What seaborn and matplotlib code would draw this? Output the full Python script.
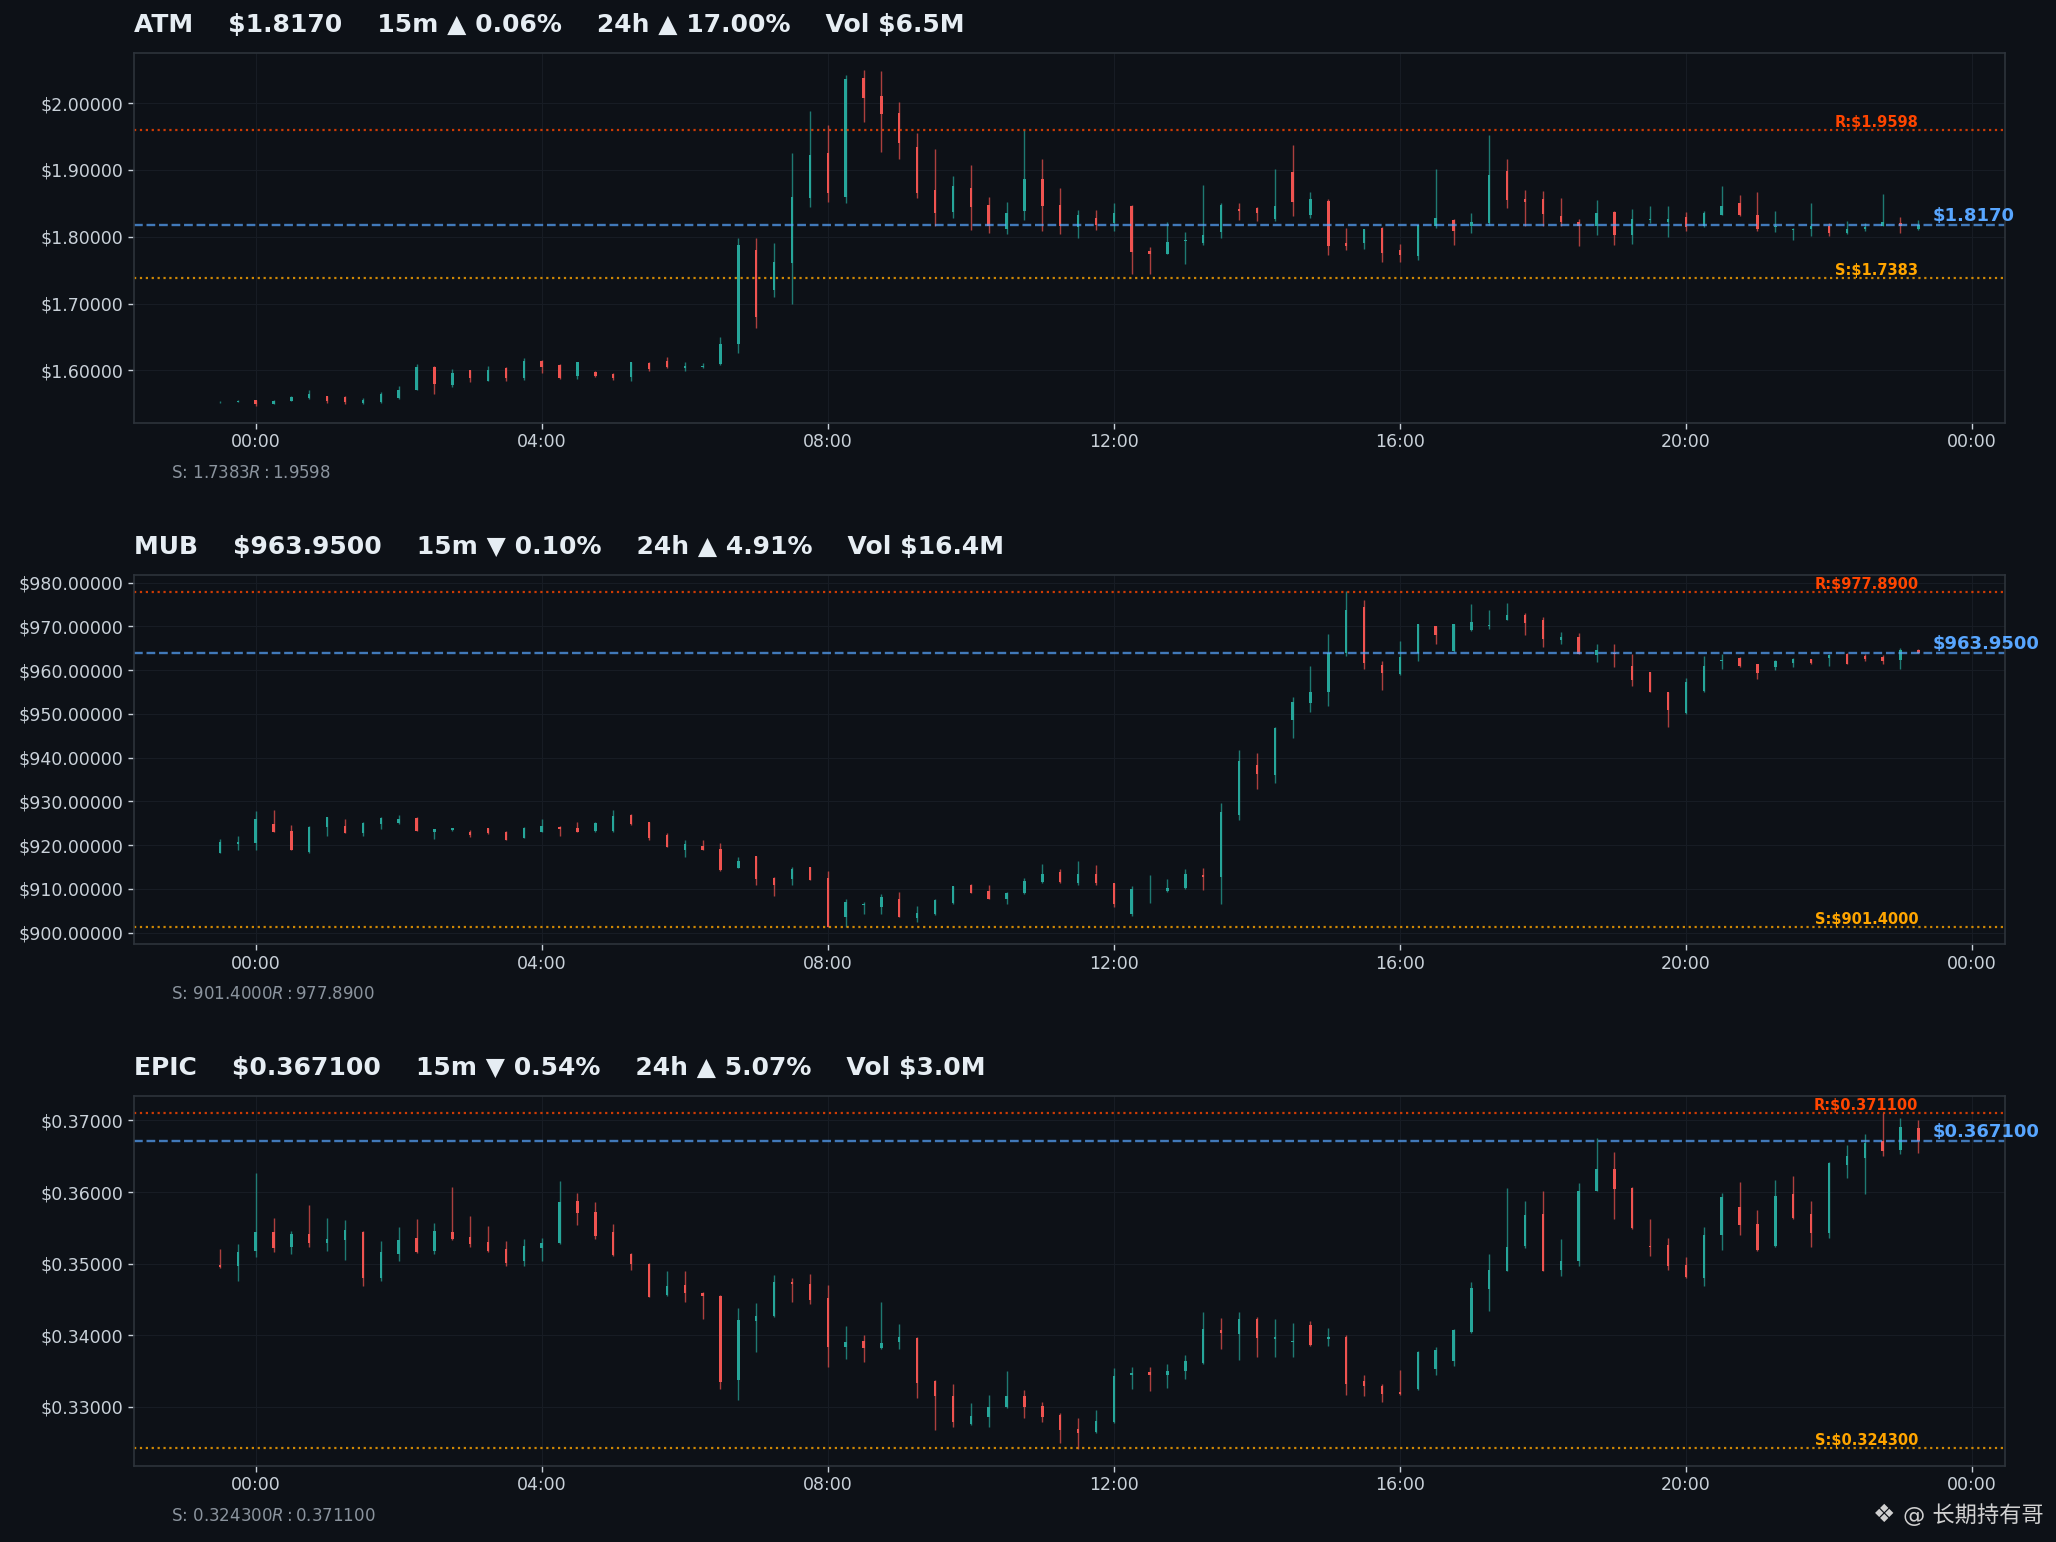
# Three-panel 15m candlestick overview (ATM / MUB / EPIC)

import numpy as np
import pandas as pd
import matplotlib
matplotlib.use("Agg")
import matplotlib.pyplot as plt
import matplotlib.dates as mdates
from matplotlib.ticker import FuncFormatter, MultipleLocator
import seaborn as sns


# 96 candles, 15 minutes apart, 23:30 -> 23:15 next day
times = pd.date_range("2024-05-01 23:30", periods=96, freq="15min")

atm_open = [1.5522, 1.5528, 1.5550, 1.5500, 1.5540, 1.5580, 1.5620, 1.5600, 1.5510, 1.5520,
            1.5590, 1.5710, 1.6050, 1.5780, 1.6000, 1.5840, 1.6030, 1.5890, 1.6140, 1.6080,
            1.5910, 1.5980, 1.5950, 1.5900, 1.6110, 1.6140, 1.6030, 1.6050, 1.6090, 1.6400,
            1.7800, 1.7200, 1.7600, 1.8580, 1.9250, 1.8600, 2.0370, 2.0110, 1.9850, 1.9350,
            1.8700, 1.8370, 1.8730, 1.8480, 1.8120, 1.8380, 1.8860, 1.8470, 1.8140, 1.8280,
            1.8210, 1.8460, 1.7780, 1.7740, 1.7940, 1.7900, 1.8065, 1.8420, 1.8430, 1.8260,
            1.8970, 1.8330, 1.8530, 1.7900, 1.7900, 1.8130, 1.7800, 1.7710, 1.8160, 1.8250,
            1.8160, 1.8200, 1.8980, 1.8560, 1.8560, 1.8310, 1.8220, 1.8160, 1.8370, 1.8020,
            1.8250, 1.8220, 1.8300, 1.8160, 1.8330, 1.8500, 1.8320, 1.8150, 1.8100, 1.8110,
            1.8160, 1.8050, 1.8110, 1.8160, 1.8200, 1.8110]
atm_high = [1.5540, 1.5560, 1.5560, 1.5560, 1.5620, 1.5710, 1.5620, 1.5610, 1.5585, 1.5670,
            1.5770, 1.6100, 1.6060, 1.6015, 1.6010, 1.6070, 1.6050, 1.6185, 1.6150, 1.6100,
            1.6130, 1.5985, 1.5960, 1.6130, 1.6130, 1.6200, 1.6120, 1.6110, 1.6500, 1.7980,
            1.7980, 1.7900, 1.9250, 1.9880, 1.9670, 2.0420, 2.0500, 2.0480, 2.0010, 1.9550,
            1.9310, 1.8910, 1.9080, 1.8600, 1.8520, 1.9600, 1.9160, 1.8725, 1.8395, 1.8395,
            1.8500, 1.8470, 1.7850, 1.8220, 1.8070, 1.8770, 1.8500, 1.8500, 1.8440, 1.9020,
            1.9380, 1.8670, 1.8570, 1.8130, 1.8120, 1.8150, 1.7885, 1.8180, 1.9010, 1.8260,
            1.8350, 1.9520, 1.9160, 1.8700, 1.8680, 1.8575, 1.8260, 1.8545, 1.8380, 1.8410,
            1.8455, 1.8455, 1.8370, 1.8380, 1.8755, 1.8620, 1.8665, 1.8380, 1.8130, 1.8500,
            1.8210, 1.8230, 1.8200, 1.8635, 1.8290, 1.8250]
atm_low = [1.5512, 1.5522, 1.5470, 1.5495, 1.5535, 1.5570, 1.5510, 1.5500, 1.5500, 1.5510,
           1.5570, 1.5700, 1.5645, 1.5750, 1.5820, 1.5835, 1.5835, 1.5860, 1.5960, 1.5875,
           1.5870, 1.5900, 1.5850, 1.5840, 1.5990, 1.6040, 1.5990, 1.6040, 1.6080, 1.6260,
           1.6630, 1.7100, 1.7000, 1.8450, 1.8520, 1.8500, 1.9710, 1.9270, 1.9170, 1.8580,
           1.8160, 1.8280, 1.8100, 1.8050, 1.8035, 1.8250, 1.8085, 1.8035, 1.7975, 1.8100,
           1.8085, 1.7450, 1.7450, 1.7740, 1.7585, 1.7870, 1.7975, 1.8250, 1.8235, 1.8240,
           1.8310, 1.8275, 1.7730, 1.7800, 1.7810, 1.7620, 1.7620, 1.7650, 1.8125, 1.7875,
           1.8060, 1.8180, 1.8430, 1.8165, 1.8165, 1.8165, 1.7860, 1.8025, 1.7875, 1.7890,
           1.8200, 1.8000, 1.8080, 1.8150, 1.8320, 1.8310, 1.8085, 1.8070, 1.7950, 1.8010,
           1.8010, 1.8035, 1.8080, 1.8160, 1.8050, 1.8100]
atm_close = [1.5530, 1.5545, 1.5490, 1.5540, 1.5600, 1.5650, 1.5540, 1.5520, 1.5560, 1.5650,
             1.5700, 1.6050, 1.5800, 1.5960, 1.5880, 1.6000, 1.5880, 1.6140, 1.6050, 1.5890,
             1.6120, 1.5920, 1.5880, 1.6120, 1.6020, 1.6050, 1.6070, 1.6060, 1.6400, 1.7870,
             1.6800, 1.7620, 1.8600, 1.9230, 1.8650, 2.0360, 2.0080, 1.9830, 1.9400, 1.8660,
             1.8350, 1.8760, 1.8450, 1.8160, 1.8360, 1.8860, 1.8460, 1.8160, 1.8320, 1.8180,
             1.8360, 1.7770, 1.7740, 1.7920, 1.7955, 1.8020, 1.8470, 1.8380, 1.8360, 1.8460,
             1.8520, 1.8560, 1.7860, 1.7860, 1.8110, 1.7760, 1.7720, 1.8170, 1.8280, 1.8080,
             1.8220, 1.8920, 1.8550, 1.8520, 1.8340, 1.8220, 1.8160, 1.8350, 1.8020, 1.8260,
             1.8265, 1.8270, 1.8150, 1.8350, 1.8460, 1.8320, 1.8110, 1.8160, 1.8110, 1.8160,
             1.8060, 1.8110, 1.8140, 1.8220, 1.8160, 1.8170]

mub_open = [918.3, 920.2, 920.5, 924.9, 923.3, 918.4, 924.1, 924.5, 922.7, 924.9,
            925.1, 926.2, 923.1, 923.4, 923.0, 923.9, 923.1, 921.7, 923.1, 924.1,
            923.9, 923.2, 923.2, 927.0, 925.2, 922.3, 918.8, 919.9, 919.2, 914.7,
            917.5, 912.4, 912.2, 915.0, 912.5, 903.5, 906.3, 905.8, 907.8, 903.3,
            904.2, 906.7, 911.0, 909.5, 907.8, 909.1, 911.6, 913.8, 911.4, 913.5,
            911.3, 904.2, 909.9, 909.5, 910.3, 913.2, 912.8, 926.8, 938.4, 936.1,
            948.7, 952.6, 954.9, 963.9, 974.4, 961.2, 959.1, 963.9, 970.0, 964.3,
            969.2, 970.1, 971.5, 972.5, 971.5, 966.8, 967.6, 963.5, 963.9, 961.0,
            959.5, 954.9, 950.2, 955.3, 962.0, 962.7, 961.3, 960.8, 961.6, 962.5,
            962.7, 963.7, 963.3, 963.0, 962.4, 964.6]
mub_high = [921.5, 922.2, 927.9, 928.1, 924.7, 924.3, 926.5, 925.9, 925.2, 926.5,
            926.8, 926.4, 923.8, 924.0, 923.5, 924.0, 923.3, 924.2, 926.1, 924.3,
            925.2, 925.2, 928.1, 927.2, 925.4, 922.7, 921.3, 921.3, 920.4, 917.4,
            917.6, 912.8, 915.1, 915.1, 914.2, 907.6, 907.1, 908.8, 909.2, 906.2,
            907.6, 910.7, 911.2, 910.8, 909.2, 912.6, 915.6, 914.5, 916.5, 915.4,
            911.4, 910.6, 913.1, 912.2, 914.6, 914.9, 929.7, 941.8, 941.1, 947.1,
            953.9, 961.0, 968.3, 978.0, 976.0, 962.1, 966.7, 970.6, 970.2, 970.6,
            975.1, 973.8, 975.4, 973.1, 972.2, 968.7, 968.5, 965.9, 966.0, 963.6,
            959.6, 955.0, 958.3, 963.3, 963.7, 963.0, 961.4, 962.3, 962.8, 962.6,
            963.7, 963.9, 963.7, 963.4, 965.1, 964.9]
mub_low = [918.3, 918.8, 919.0, 923.0, 918.8, 918.3, 922.0, 922.7, 922.1, 923.6,
           924.8, 923.3, 921.5, 923.3, 921.9, 922.6, 921.1, 921.7, 923.1, 922.2,
           923.1, 923.1, 923.1, 924.7, 921.1, 919.5, 917.2, 919.0, 914.2, 914.7,
           911.0, 908.3, 911.0, 912.0, 901.2, 901.2, 904.2, 904.2, 903.5, 902.4,
           904.1, 906.5, 909.0, 907.6, 906.5, 908.8, 911.3, 911.3, 911.0, 911.0,
           905.9, 903.8, 906.8, 909.3, 910.0, 909.7, 906.5, 925.7, 932.9, 934.3,
           944.4, 950.5, 951.9, 963.3, 960.2, 955.4, 958.9, 962.1, 966.0, 964.2,
           969.0, 969.4, 971.4, 968.1, 965.3, 965.9, 963.6, 961.9, 960.8, 956.4,
           954.9, 946.9, 950.0, 955.1, 960.3, 960.8, 958.0, 960.0, 960.7, 961.4,
           961.0, 961.4, 962.0, 961.5, 960.3, 963.9]
mub_close = [920.8, 920.8, 925.9, 923.0, 918.8, 924.2, 926.5, 922.7, 925.1, 926.2,
             925.9, 923.3, 923.6, 923.9, 922.4, 922.8, 921.3, 923.9, 924.5, 923.6,
             923.1, 925.1, 926.6, 924.9, 921.7, 919.5, 920.2, 919.0, 914.4, 916.5,
             912.2, 911.0, 914.5, 912.0, 901.2, 907.0, 906.6, 908.1, 903.5, 904.4,
             907.5, 910.6, 909.1, 907.6, 909.0, 911.8, 913.5, 911.6, 913.4, 911.4,
             906.5, 909.9, 910.0, 910.3, 913.5, 912.8, 927.5, 939.3, 936.3, 946.8,
             952.8, 955.1, 963.9, 973.8, 961.7, 959.3, 963.1, 970.5, 968.1, 970.5,
             971.1, 970.3, 972.6, 970.8, 967.1, 967.5, 963.8, 964.6, 963.7, 957.8,
             955.1, 951.0, 957.4, 961.0, 962.4, 961.0, 959.3, 962.1, 962.5, 961.6,
             963.5, 961.4, 962.5, 962.1, 964.6, 963.95]

epic_open = [0.34981, 0.34967, 0.35177, 0.35438, 0.35233, 0.35415, 0.35289, 0.35331, 0.35443, 0.34800,
             0.35135, 0.35359, 0.35177, 0.35443, 0.35373, 0.35303, 0.35205, 0.35037, 0.35219, 0.35289,
             0.35876, 0.35723, 0.35443, 0.35135, 0.34995, 0.34562, 0.34702, 0.34590, 0.34548, 0.33373,
             0.34203, 0.34268, 0.34744, 0.34716, 0.34520, 0.33834, 0.33918, 0.33820, 0.33904, 0.33965,
             0.33359, 0.33149, 0.32758, 0.32856, 0.32995, 0.33149, 0.33009, 0.32883, 0.32688, 0.32646,
             0.32786, 0.33448, 0.33481, 0.33448, 0.33499, 0.33611, 0.34072, 0.34016, 0.34226, 0.33946,
             0.33900, 0.34142, 0.33950, 0.33974, 0.33359, 0.33289, 0.33205, 0.33247, 0.33527, 0.33639,
             0.34044, 0.34646, 0.34897, 0.35247, 0.35695, 0.34911, 0.35037, 0.36016, 0.36324, 0.36058,
             0.35247, 0.35261, 0.34981, 0.34800, 0.35401, 0.35793, 0.35555, 0.35247, 0.35974, 0.35695,
             0.35429, 0.36380, 0.36478, 0.36711, 0.36590, 0.36897]
epic_high = [0.35205, 0.35275, 0.36268, 0.35639, 0.35457, 0.35820, 0.35639, 0.35611, 0.35457, 0.35317,
             0.35513, 0.35625, 0.35569, 0.36072, 0.35667, 0.35527, 0.35317, 0.35345, 0.35359, 0.36156,
             0.35988, 0.35862, 0.35555, 0.35149, 0.35009, 0.34897, 0.34897, 0.34604, 0.34562, 0.34380,
             0.34450, 0.34842, 0.34800, 0.34855, 0.34702, 0.34128, 0.34002, 0.34464, 0.34156, 0.33980,
             0.33373, 0.33317, 0.33051, 0.33163, 0.33499, 0.33233, 0.33065, 0.32911, 0.32842, 0.32953,
             0.33541, 0.33555, 0.33555, 0.33597, 0.33723, 0.34324, 0.34240, 0.34324, 0.34254, 0.34226,
             0.34170, 0.34198, 0.34100, 0.34002, 0.33443, 0.33317, 0.33513, 0.33779, 0.33835, 0.34086,
             0.34744, 0.35135, 0.36058, 0.35876, 0.36016, 0.35345, 0.36128, 0.36758, 0.36562, 0.36072,
             0.35625, 0.35359, 0.35093, 0.35513, 0.35988, 0.36142, 0.35751, 0.36170, 0.36226, 0.35876,
             0.36422, 0.36660, 0.36814, 0.37103, 0.37037, 0.37009]
epic_low = [0.34939, 0.34758, 0.35093, 0.35163, 0.35135, 0.35233, 0.35177, 0.35051, 0.34688, 0.34758,
            0.35037, 0.35149, 0.35135, 0.35331, 0.35233, 0.35163, 0.34967, 0.34967, 0.35037, 0.35275,
            0.35541, 0.35345, 0.35107, 0.34911, 0.34534, 0.34550, 0.34464, 0.34226, 0.33247, 0.33093,
            0.33764, 0.34254, 0.34464, 0.34436, 0.33555, 0.33667, 0.33625, 0.33807, 0.33807, 0.33121,
            0.32674, 0.32716, 0.32744, 0.32716, 0.32990, 0.32841, 0.32786, 0.32492, 0.32408, 0.32640,
            0.32780, 0.33247, 0.33219, 0.33261, 0.33387, 0.33597, 0.33807, 0.33653, 0.33695, 0.33695,
            0.33695, 0.33848, 0.33848, 0.33163, 0.33149, 0.33065, 0.33170, 0.33240, 0.33443, 0.33569,
            0.34030, 0.34338, 0.34890, 0.35219, 0.34890, 0.34828, 0.34967, 0.36010, 0.35625, 0.35485,
            0.35107, 0.34911, 0.34800, 0.34688, 0.35191, 0.35401, 0.35177, 0.35233, 0.35625, 0.35233,
            0.35359, 0.36198, 0.35974, 0.36506, 0.36534, 0.36548]
epic_close = [0.34953, 0.35163, 0.35438, 0.35219, 0.35415, 0.35289, 0.35345, 0.35471, 0.34800, 0.35163,
              0.35331, 0.35163, 0.35457, 0.35345, 0.35275, 0.35177, 0.35009, 0.35247, 0.35289, 0.35862,
              0.35709, 0.35387, 0.35121, 0.34995, 0.34534, 0.34688, 0.34590, 0.34548, 0.33345, 0.34212,
              0.34263, 0.34744, 0.34716, 0.34492, 0.33834, 0.33904, 0.33820, 0.33890, 0.33974, 0.33331,
              0.33149, 0.32786, 0.32870, 0.32995, 0.33149, 0.32995, 0.32856, 0.32674, 0.32632, 0.32800,
              0.33434, 0.33471, 0.33443, 0.33499, 0.33639, 0.34086, 0.34035, 0.34226, 0.33956, 0.33970,
              0.33918, 0.33863, 0.33970, 0.33317, 0.33289, 0.33177, 0.33177, 0.33769, 0.33793, 0.34077,
              0.34660, 0.34911, 0.35233, 0.35681, 0.34897, 0.35037, 0.36016, 0.36324, 0.36044, 0.35499,
              0.35233, 0.34967, 0.34814, 0.35401, 0.35932, 0.35541, 0.35191, 0.35946, 0.35639, 0.35429,
              0.36408, 0.36506, 0.36688, 0.36576, 0.36911, 0.36710]

symbols = ["ATM", "MUB", "EPIC"]
titles = [
    r"ATM    \$1.8170    15m ▲ 0.06%    24h ▲ 17.00%    Vol \$6.5M",
    r"MUB    \$963.9500    15m ▼ 0.10%    24h ▲ 4.91%    Vol \$16.4M",
    r"EPIC    \$0.367100    15m ▼ 0.54%    24h ▲ 5.07%    Vol \$3.0M",
]
current_prices = [1.8170, 963.95, 0.3671]
supports = [1.7383, 901.40, 0.3243]
resistances = [1.9598, 977.89, 0.3711]
price_labels = ["1.8170", "963.9500", "0.367100"]
support_labels = ["1.7383", "901.4000", "0.324300"]
resistance_labels = ["1.9598", "977.8900", "0.371100"]
ytick_steps = [0.1, 10, 0.01]

BG = "#0d1117"
UP = "#26a69a"
DOWN = "#ef5350"
TEXT = "#e6edf3"


def draw_candles(ax, x, o, h, l, c):
    o, h, l, c = map(np.asarray, (o, h, l, c))
    colors = np.where(c >= o, UP, DOWN)
    ax.vlines(x, l, h, colors=colors, linewidth=1.0, alpha=0.7)
    ax.bar(x, np.abs(c - o), bottom=np.minimum(o, c), width=0.0014,
           color=colors, linewidth=0)
    # bars would otherwise pin the y-limits to their bottoms
    ax.use_sticky_edges = False


def style_axis(ax, step):
    ax.set_facecolor(BG)
    for sp in ax.spines.values():
        sp.set_visible(True)
        sp.set_color("#2d333b")
        sp.set_linewidth(1.2)
    ax.grid(True, color="#171c24", linewidth=0.8)
    ax.tick_params(colors="#c9d1d9", labelsize=12.5, length=4, width=1,
                   left=True, bottom=True)
    ax.xaxis.set_major_locator(mdates.HourLocator(byhour=range(0, 24, 4)))
    ax.xaxis.set_major_formatter(mdates.DateFormatter("%H:%M"))
    ax.yaxis.set_major_locator(MultipleLocator(step))
    ax.yaxis.set_major_formatter(FuncFormatter(lambda v, p: f"\\${v:.5f}"))


def main():
    sns.set_theme(style="dark", rc={"figure.facecolor": BG, "axes.facecolor": BG})
    plt.rcParams["font.family"] = ["DejaVu Sans", "Noto Sans CJK SC"]

    fig, axes = plt.subplots(3, 1, figsize=(20.56, 15.42), dpi=100)
    fig.subplots_adjust(left=0.065, right=0.975, top=0.9657, bottom=0.0493, hspace=0.411)

    x = mdates.date2num(times.to_pydatetime())
    last = x[-1]
    ohlc = [
        (atm_open, atm_high, atm_low, atm_close),
        (mub_open, mub_high, mub_low, mub_close),
        (epic_open, epic_high, epic_low, epic_close),
    ]

    for i, ax in enumerate(axes):
        draw_candles(ax, x, *ohlc[i])
        style_axis(ax, ytick_steps[i])

        ax.axhline(resistances[i], color="#ff4500", linestyle=":", linewidth=1.6, alpha=0.8)
        ax.axhline(supports[i], color="#ffa500", linestyle=":", linewidth=1.6, alpha=0.8)
        ax.axhline(current_prices[i], color="#58a6ff", linestyle="--", linewidth=1.7, alpha=0.7)

        ax.text(last, resistances[i], f"R:\\${resistance_labels[i]}", color="#ff4500",
                fontsize=10.5, fontweight="bold", ha="right", va="bottom")
        ax.text(last, supports[i], f"S:\\${support_labels[i]}", color="#ffa500",
                fontsize=10.5, fontweight="bold", ha="right", va="bottom")
        ax.text(last + 12 / 1440, current_prices[i], f"\\${price_labels[i]}", color="#58a6ff",
                fontsize=13, fontweight="bold", ha="left", va="bottom")

        ax.set_title(titles[i], loc="left", pad=15, fontsize=18, fontweight="bold", color=TEXT)
        # unescaped dollars on purpose: this line is rendered as mathtext
        ax.text(0.02, -0.135, f"S: ${support_labels[i]}  R: ${resistance_labels[i]}",
                transform=ax.transAxes, color="#8b949e", fontsize=12, va="center", ha="left")
        ax.set_xlabel("")
        ax.set_ylabel("")

    fig.text(0.9165, 0.0175, "❖", color="#d0d0d0", fontsize=18, ha="center", va="center")
    fig.text(0.9255, 0.0175, "@ 长期持有哥", color="#d0d0d0", fontsize=16,
             ha="left", va="center", family=["DejaVu Sans", "Noto Sans CJK SC"])

    fig.savefig("out.png", dpi=100, facecolor=BG)


if __name__ == "__main__":
    main()
